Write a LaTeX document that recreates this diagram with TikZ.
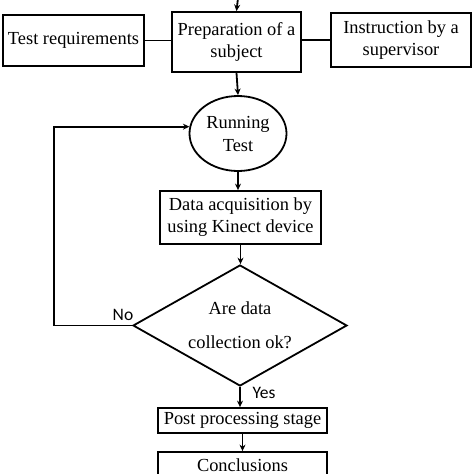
\documentclass[tikz,border=0pt]{standalone}
\usepackage{fontspec}
\setmainfont{Liberation Serif}
\newfontfamily\lblfont{Carlito}
\usetikzlibrary{shapes.geometric,arrows.meta}
\begin{document}
\begin{tikzpicture}[x=1pt,y=-1pt,
  txt/.style={font=\fontsize{18.4}{22}\selectfont, align=center, inner sep=0pt},
  box/.style={txt, draw, line width=1.8pt, rectangle},
  arr/.style={line width=1.8pt, -{Stealth[length=6.5pt,width=6pt]}},
  ln/.style={line width=1.8pt},
  lbl/.style={font=\lblfont\fontsize{17.5}{20}\selectfont, inner sep=0pt}]
\useasboundingbox (0,0) rectangle (474,474);
\fill[white] (0,0) rectangle (474,474);
\coordinate (top) at (238,-2);
\node[box, minimum width=129pt, minimum height=60pt] (prep) at (236.5,42) {Preparation of a\\subject};
\node[box, minimum width=141pt, minimum height=51pt] (test) at (73.5,40.5) {Test requirements};
\node[box, minimum width=140pt, minimum height=54pt] (instr) at (401,40) {Instruction by a\\supervisor};
\node[txt, draw, line width=1.8pt, ellipse, minimum width=97pt, minimum height=75pt] (run) at (238,133.5) {Running\\[1pt]Test};
\node[box, minimum width=161pt, minimum height=53pt] (data) at (240.5,217.5) {Data acquisition by\\using Kinect device};
\node[txt, draw, line width=1.8pt, diamond, minimum width=214pt, minimum height=121pt, aspect=1.77] (dec) at (240,325.5) {Are data\\[12pt]collection ok?};
\node[box, minimum width=169pt, minimum height=25pt] (post) at (242.5,420.5) {Post processing stage};
\node[box, minimum width=169pt, minimum height=26pt] (concl) at (242.5,465) {Conclusions};
\coordinate (lp) at (54,325.5);
\draw[arr] (top) -- (prep.north);
\draw[ln] (test.east) -- (prep.west |- test.east);
\draw[ln] (prep.east |- instr.west) -- (instr.west);
\draw[arr] (prep.south) -- (run.north);
\draw[arr] (run.south) -- (run.south |- data.north);
\draw[arr] (data.south) -- (data.south |- dec.north);
\draw[arr] (dec.south) -- (dec.south |- post.north);
\draw[arr] (post.south) -- (concl.north);
\draw[arr] (dec.west) -- (lp) |- (run.172);
\node[lbl] (no) at (123,315) {No};
\node[lbl] (yes) at (264,393) {Yes};
\end{tikzpicture}
\end{document}
